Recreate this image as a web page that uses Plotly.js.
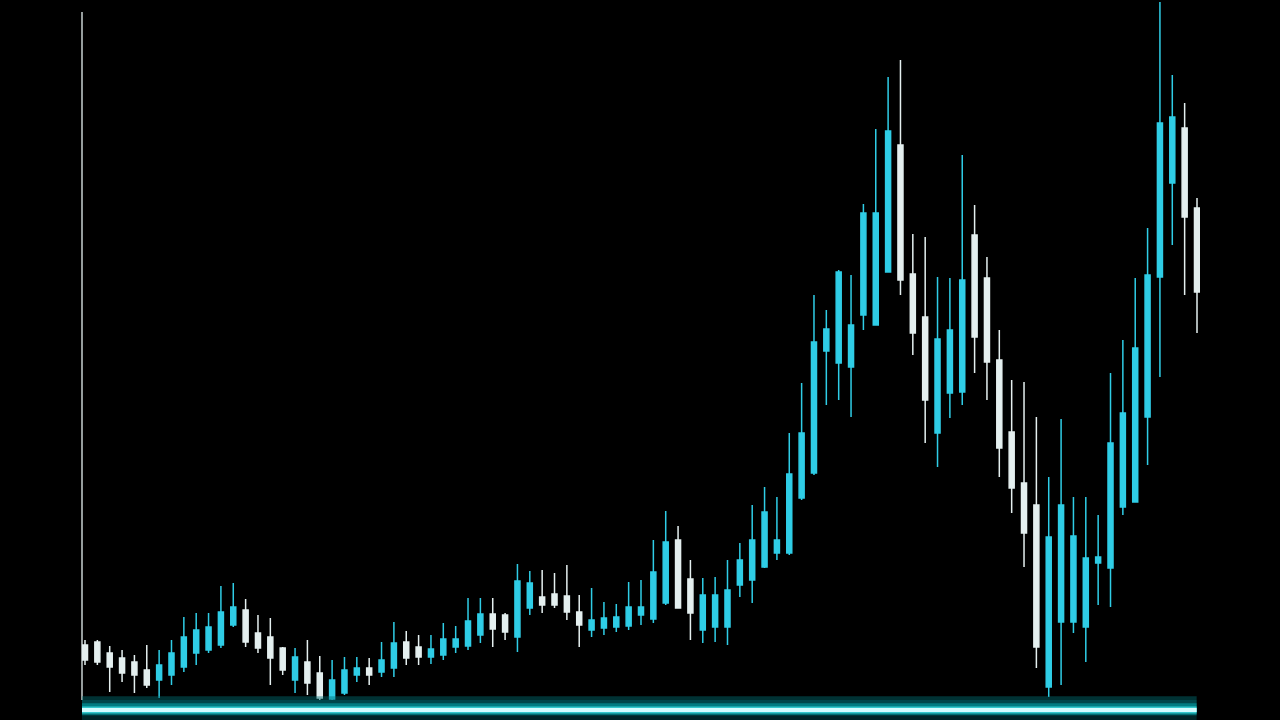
<!DOCTYPE html>
<html>
<head>
<meta charset="utf-8">
<script src="https://cdn.plot.ly/plotly-3.0.1.min.js"></script>
<style>
html,body{margin:0;padding:0;background:#000;}
#chart{width:1280px;height:720px;}
</style>
</head>
<body>
<div id="chart"></div>
<script>
// Session index (one candle per period)
const periods = Array.from({length: 91}, (_, i) => i);

const openVals  = [60,63,52,47,43,35,25,30,38,52,55,60,80,95,72,68,57,25,43,32,6,12,30,37,33,37,63,58,48,50,58,59,70,91,90,68,97,108,111,109,93,75,77,78,79,90,86,102,165,126,75,78,78,120,125,138,152,152,207,232,354,342,338,390,380,433,560,431,388,272,312,313,470,427,345,273,222,200,18,83,83,78,142,137,198,203,288,428,522,577,497];
const highVals  = [65,65,59,55,50,60,55,65,88,92,92,119,122,106,90,87,58,57,65,49,45,48,48,47,63,83,74,70,70,82,79,107,107,107,92,141,134,135,132,140,110,117,103,101,123,125,165,194,179,145,127,128,145,162,200,218,208,272,322,410,395,435,430,501,576,628,645,471,468,428,427,550,500,448,375,325,323,288,228,286,208,208,190,332,365,427,477,703,630,602,507];
const lowVals   = [40,40,13,23,12,17,7,20,33,40,52,57,78,58,52,20,30,12,10,5,5,10,23,20,28,28,40,40,41,45,52,55,62,58,65,53,90,92,97,85,58,68,70,73,75,80,82,100,97,65,62,63,60,108,102,137,145,150,205,230,300,305,288,375,380,433,410,350,262,238,287,300,332,305,228,192,138,37,8,20,72,43,100,98,190,203,240,328,460,410,372];
const closeVals = [45,43,38,32,30,20,40,52,68,75,78,93,98,63,57,47,35,48,22,7,25,35,37,30,45,62,47,48,56,66,66,84,91,76,73,124,122,100,100,93,80,85,87,88,98,98,133,163,97,92,110,110,115,145,165,193,165,231,272,363,376,433,380,492,492,574,425,372,305,366,375,425,368,343,257,217,172,58,168,200,169,147,148,262,292,357,430,582,588,488,413];

const CYAN = '#2fcde6';
const WHITE = '#e4efef';

const trace = {
  type: 'candlestick',
  x: periods,
  open: openVals,
  high: highVals,
  low: lowVals,
  close: closeVals,
  increasing: {line: {color: CYAN, width: 1.5}, fillcolor: CYAN},
  decreasing: {line: {color: WHITE, width: 1.5}, fillcolor: WHITE},
  whiskerwidth: 0,
  hoverinfo: 'none',
  showlegend: false
};

const glow = (w, c, dy) => ({
  type: 'line', xref: 'paper', yref: 'paper',
  x0: 0, x1: 0.997, y0: dy, y1: dy,
  line: {color: c, width: w}, layer: 'above'
});

const layout = {
  width: 1280, height: 720,
  paper_bgcolor: '#000', plot_bgcolor: '#000',
  margin: {l: 82, r: 80, t: 0, b: 10, pad: 0},
  boxgap: 0.42,
  xaxis: {
    range: [-0.243, 90.243],
    showgrid: false, zeroline: false, showticklabels: false, ticks: '',
    showline: false,
    rangeslider: {visible: false}
  },
  yaxis: {
    range: [-5, 705],
    showgrid: false, zeroline: false, showticklabels: false, ticks: '',
    showline: false
  },
  shapes: [
    {type: 'line', xref: 'paper', yref: 'paper', x0: 0, x1: 0, y0: 0.014, y1: 0.983,
     line: {color: '#c8d2d2', width: 1.5}, layer: 'below'},
    glow(16, 'rgba(0,110,115,0.45)', 0.008),
    glow(20, 'rgba(0,120,125,0.30)', 0.0),
    glow(12, 'rgba(0,170,175,0.55)', 0.001),
    glow(7, 'rgba(60,215,220,0.85)', 0.0),
    glow(4, '#d4fdff', 0.0)
  ]
};

Plotly.newPlot('chart', [trace], layout, {staticPlot: true, displayModeBar: false});
</script>
</body>
</html>
